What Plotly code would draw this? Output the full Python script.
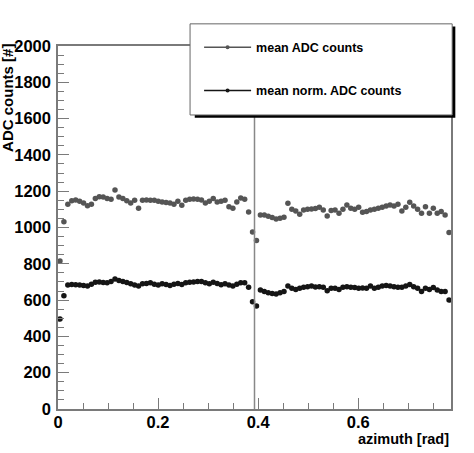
import numpy as np
import plotly.graph_objects as go

# azimuth range covered by one sector, split into equal bins
AZ_MAX = np.pi / 4
N_BINS = 100
azimuth = (np.arange(N_BINS) + 0.5) * AZ_MAX / N_BINS
sector_edge = np.pi / 8

mean_adc = [
    815, 1032, 1128, 1148, 1152, 1145, 1135, 1120, 1128, 1160,
    1170, 1168, 1160, 1155, 1207, 1168, 1160, 1148, 1135, 1150,
    1106, 1150, 1152, 1150, 1150, 1145, 1140, 1138, 1135, 1128,
    1145, 1122, 1150, 1155, 1157, 1155, 1152, 1135, 1145, 1160,
    1140, 1145, 1150, 1115, 1106, 1140, 1162, 1155, 1085, 975,
    929, 1069, 1069, 1062, 1055, 1047, 1051, 1056, 1133, 1100,
    1091, 1073, 1097, 1100, 1102, 1104, 1111, 1097, 1064, 1093,
    1097, 1078, 1100, 1124, 1106, 1100, 1111, 1084, 1088, 1097,
    1100, 1106, 1111, 1119, 1124, 1119, 1128, 1091, 1111, 1139,
    1119, 1100, 1078, 1115, 1078, 1106, 1078, 1088, 1069, 973,
]
mean_norm_adc = [
    496, 624, 683, 686, 685, 683, 680, 677, 688, 698,
    700, 697, 695, 702, 716, 708, 702, 697, 690, 683,
    678, 690, 692, 695, 688, 683, 690, 686, 680, 688,
    692, 686, 695, 698, 700, 702, 703, 696, 690, 698,
    692, 685, 690, 683, 677, 688, 696, 696, 671, 591,
    567, 656, 647, 641, 636, 634, 641, 647, 677, 665,
    659, 665, 671, 674, 677, 672, 674, 671, 652, 665,
    665, 659, 671, 674, 671, 669, 665, 667, 665, 677,
    665, 671, 677, 680, 677, 674, 671, 671, 677, 686,
    674, 665, 647, 665, 659, 669, 656, 647, 647, 600,
]

series_names = ["mean ADC counts", "mean norm. ADC counts"]
series_colors = ["#555555", "#151515"]

FONT = "Liberation Sans, Arial, Helvetica, sans-serif"
FRAME = "#7a7a7a"

fig = go.Figure()
for name, vals, col in zip(series_names, [mean_adc, mean_norm_adc], series_colors):
    fig.add_trace(go.Scatter(
        x=azimuth, y=vals, mode="markers", name=name,
        marker=dict(color=col, size=5.5), showlegend=False,
    ))
    # legend-only entry so the key shows line + marker like the original
    fig.add_trace(go.Scatter(
        x=[None], y=[None], mode="lines+markers", name=name, legendgroup=name,
        line=dict(color=col, width=1.5), marker=dict(color=col, size=4),
    ))

# sector boundary
fig.add_shape(type="line", xref="x", yref="paper", x0=sector_edge, x1=sector_edge,
              y0=0, y1=1, line=dict(color="#888888", width=1.5), layer="above")
# legend box with drop shadow
fig.add_shape(type="rect", xref="paper", yref="paper", x0=0.348, x1=1.011, y0=0.802, y1=1.054,
              fillcolor="black", line=dict(width=0), layer="above")
fig.add_shape(type="rect", xref="paper", yref="paper", x0=0.336, x1=1.003, y0=0.810, y1=1.061,
              fillcolor="white", line=dict(color="#666666", width=1), layer="above")

fig.add_annotation(text="azimuth [rad]", xref="paper", yref="paper", x=1.0, y=-0.082,
                   xanchor="right", yanchor="middle", showarrow=False,
                   font=dict(family=FONT, size=14.5, color="black", weight="bold"))
fig.add_annotation(text="ADC counts [#]", xref="paper", yref="paper", x=-0.13, y=1.011,
                   xanchor="center", yanchor="top", textangle=-90, showarrow=False,
                   font=dict(family=FONT, size=15, color="black", weight="bold"))

axis_common = dict(
    showgrid=False, zeroline=False, showline=True, linecolor=FRAME, linewidth=1.5,
    mirror=True, ticks="inside", tickcolor=FRAME, tickwidth=1, ticklen=11,
    tickfont=dict(family=FONT, size=16.5, color="black", weight="bold"),
)
fig.update_xaxes(range=[0, AZ_MAX], tick0=0, dtick=0.2, ticklabelstandoff=-3,
                 minor=dict(dtick=0.05, ticks="inside", ticklen=6, tickcolor=FRAME),
                 **axis_common)
fig.update_yaxes(range=[0, 2000], tick0=0, dtick=200, ticklabelstandoff=2,
                 minor=dict(dtick=50, ticks="inside", ticklen=6, tickcolor=FRAME),
                 **axis_common)

fig.update_layout(
    width=474, height=453,
    margin=dict(l=58, r=23, t=46, b=44),
    paper_bgcolor="white", plot_bgcolor="white",
    font=dict(family=FONT, color="black"),
    legend=dict(x=0.359, y=1.037, xanchor="left", yanchor="top", itemwidth=47,
                bgcolor="rgba(0,0,0,0)", borderwidth=0, tracegroupgap=24,
                font=dict(family=FONT, size=12.5, color="black", weight="bold")),
)

# drop the browser's default page margin so the figure sits at the window corner
fig.write_html("out.html", config={"displayModeBar": False},
               post_script="document.body.style.margin='0';")
